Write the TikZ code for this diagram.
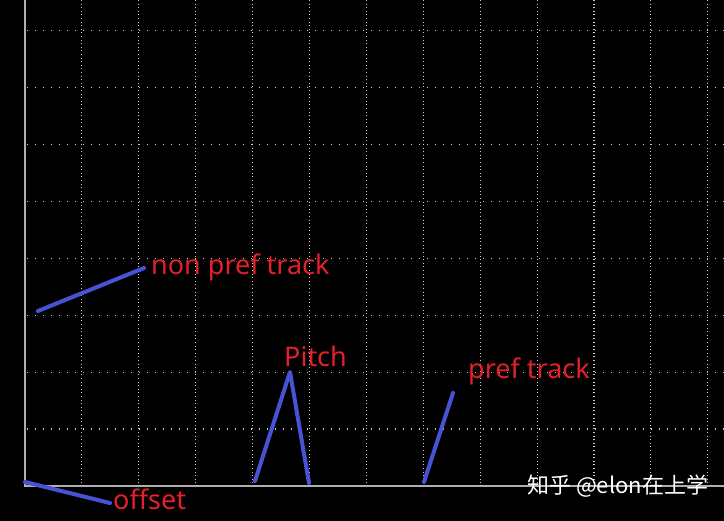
\documentclass[tikz,border=0pt]{standalone}
\usepackage{fontspec}
\setmainfont{Noto Sans}
\newfontfamily\cjk{Noto Sans CJK SC}
\definecolor{gridc}{RGB}{205,205,205}
\definecolor{axisc}{RGB}{175,175,175}
\definecolor{labred}{RGB}{228,32,42}
\definecolor{ptrblue}{RGB}{72,82,212}
\tikzset{
  vgrid/.style={gridc, line width=1.1pt, dash pattern=on 1pt off 2.6pt},
  hgrid/.style={gridc, line width=1.2pt, dash pattern=on 1.3pt off 6.7pt},
  axis/.style={axisc, line width=1.2pt},
  pointer/.style={ptrblue, line width=4pt, line cap=round, line join=round},
  lab/.style={labred, font=\fontsize{27}{30}\selectfont, inner sep=0pt, anchor=base west},
  wm/.style={white, font=\cjk\fontsize{22}{24}\selectfont, inner sep=0pt, anchor=base west}
}
\begin{document}
\begin{tikzpicture}[x=1pt,y=-1pt]
\fill[black] (0,0) rectangle (724,521);
\useasboundingbox (0,0) rectangle (724,521);
% vertical dotted grid lines
\foreach \i in {1,...,12}{
  \draw[vgrid] ({25+56.9*\i},0) -- ({25+56.9*\i},486);
}
% horizontal dotted grid lines
\foreach \j in {1,...,8}{
  \draw[hgrid] (27,{486-56.9*\j}) -- (724,{486-56.9*\j});
}
% axes
\draw[axis] (25,0) -- (25,486) -- (724,486);
% pointer coordinates
\coordinate (np1) at (38,311);
\coordinate (np2) at (144,268);
\coordinate (of1) at (25,482);
\coordinate (of2) at (110,503);
\coordinate (pi1) at (255,481);
\coordinate (pi2) at (290,372);
\coordinate (pi3) at (309,483);
\coordinate (pt1) at (424,482);
\coordinate (pt2) at (453,393);
\draw[pointer] (np1) -- (np2);
\draw[pointer] (of1) -- (of2);
\draw[pointer] (pi1) -- (pi2) -- (pi3);
\draw[pointer] (pt1) -- (pt2);
% labels
\node[lab] (nonpref) at (151,275) {non pref track};
\node[lab] (pitch) at (284,367) {Pitch};
\node[lab] (pref) at (468,379) {pref track};
\node[lab] (offset) at (113,510) {offset};
\node[wm] (mark) at (527,494) {知乎 @elon在上学};
\end{tikzpicture}
\end{document}
